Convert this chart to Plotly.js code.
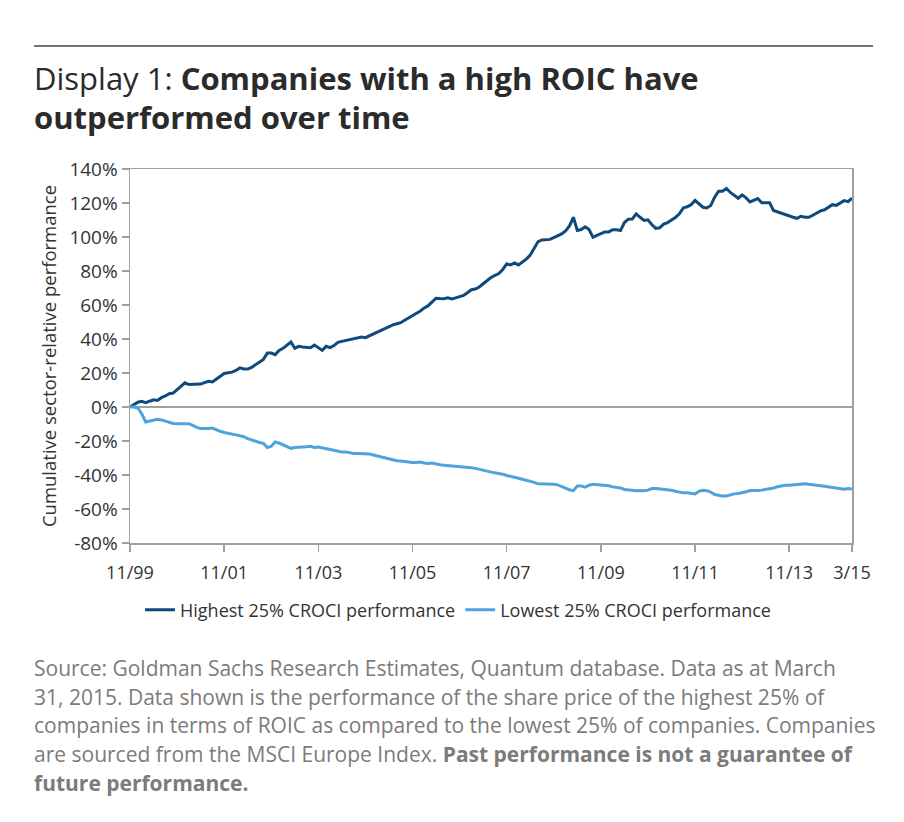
<!DOCTYPE html>
<html>
<head>
<meta charset="utf-8">
<script src="https://cdn.plot.ly/plotly-3.0.1.min.js"></script>
<style>
html,body{margin:0;padding:0;background:#fff;}
#chart{width:904px;height:822px;}
</style>
</head>
<body>
<div id="chart"></div>
<script>
// Monthly observations from 11/1999 to 3/2015
var startYear = 1999, startMonth = 11;
var highest25 = [
  0, 1.5, 2.8, 3.3, 2.5, 3.4, 4.2, 3.9, 5.5, 6.5, 7.8, 8.2,
  10.2, 12, 14.2, 13.2, 13.2, 13.3, 13.5, 14.3, 15.1, 14.7, 16.3, 18,
  19.7, 20.1, 20.5, 21.5, 23, 22.4, 22.3, 23.3, 25, 26.8, 28, 31.7,
  31.7, 30.8, 33.2, 34.5, 36.2, 38.2, 34.5, 35.7, 35.3, 35, 34.9, 36.4,
  34.7, 33.3, 35.7, 34.9, 36.2, 38, 38.6, 39.1, 39.6, 39.9, 40.4, 41.1,
  40.8, 41.9, 43, 43.9, 45.3, 46, 47.3, 48.3, 49, 49.6, 51, 52.4,
  53.5, 55, 56.5, 58.3, 59.6, 61.8, 64, 63.8, 63.7, 64.2, 63.5, 64.2,
  65, 65.6, 67.2, 69, 69.4, 70.6, 72.5, 74.5, 76.2, 77.4, 78.5, 80.9,
  84.2, 83.6, 84.8, 83.6, 85.2, 87, 89.4, 93, 97.3, 98.3, 98.3, 98.6,
  99.6, 100.8, 101.8, 103.6, 106.5, 111.6, 103.8, 104.4, 106, 104.4, 99.8, 100.9,
  102.2, 103, 103, 104.3, 104.2, 103.8, 108.5, 110.5, 110.6, 113.6, 111.6, 109.7,
  110.1, 107.2, 105.1, 105.4, 107.6, 108.5, 110, 111.5, 113.6, 117.1, 117.8, 119,
  121.5, 119.7, 117.5, 117.1, 118.5, 123.4, 126.9, 126.9, 128.6, 126.2, 124.5, 122.8,
  124.8, 123, 120.6, 121.8, 122.6, 120.1, 120.1, 120.1, 115.6, 114.8, 113.8, 112.8,
  112.1, 111.6, 111, 112.2, 111.6, 111.6, 112.8, 114.2, 115.4, 116, 117.5, 119,
  118.6, 120.2, 121.4, 120.8, 122.8
];
var lowest25 = [
  0, 0, -0.6, -4, -8.8, -8.3, -7.6, -7.2, -7.6, -8.4, -9.2, -9.7,
  -9.8, -9.8, -9.6, -9.8, -10.8, -12, -12.6, -12.7, -12.6, -12.4, -13.5, -14.3,
  -15, -15.4, -15.6, -16.4, -16.9, -17.5, -18.6, -19.5, -20.3, -20.9, -21.4, -23.9,
  -23.1, -20.6, -21.2, -22.3, -23.5, -24.3, -23.8, -23.8, -23.7, -23.4, -23.1, -23.8,
  -23.5, -24, -24.5, -24.8, -25.6, -26.2, -26.4, -26.4, -26.9, -27.3, -27.4, -27.4,
  -27.4, -27.6, -28.2, -28.8, -29.3, -30, -30.6, -31.1, -31.6, -31.8, -32.1, -32.5,
  -32.7, -32.6, -32.4, -32.9, -33.2, -33, -33.6, -34, -34.2, -34.4, -34.7, -34.8,
  -34.8, -35, -35.3, -35.8, -36.1, -36.5, -37, -37.7, -38.3, -38.7, -39, -39.5,
  -40.3, -40.7, -41.3, -41.9, -42.5, -43, -43.7, -44.3, -45.2, -45.2, -45, -45,
  -45.4, -45.8, -46.6, -47.7, -48.7, -49.2, -46.4, -46.4, -47.2, -46, -45.5, -45.7,
  -46, -46.2, -46.3, -47, -47.3, -47.6, -48.5, -48.8, -49.2, -49.2, -49.1, -49.3,
  -48.9, -48, -47.9, -48.1, -48.4, -48.6, -49, -49.6, -50.2, -50.5, -50.5, -50.8,
  -51.1, -49.6, -49, -49.2, -50, -51.5, -52.1, -52.3, -52.3, -51.5, -51.1, -50.9,
  -50.6, -49.9, -49.1, -49.2, -49.1, -48.9, -48.6, -48.3, -47.6, -46.9, -46.3, -46,
  -46, -45.8, -45.6, -45.4, -45.1, -45.5, -45.9, -46, -46.3, -46.6, -47, -47.4,
  -47.6, -48.1, -48.3, -47.9, -48.3
];
var tickDates = ['1999-11', '2001-11', '2003-11', '2005-11', '2007-11', '2009-11', '2011-11', '2013-11', '2015-03'];
var tickLabels = ['11/99', '11/01', '11/03', '11/05', '11/07', '11/09', '11/11', '11/13', '3/15'];
var yTickVals = [-80, -60, -40, -20, 0, 20, 40, 60, 80, 100, 120, 140];
var yTickLabels = ['-80%', '-60%', '-40%', '-20%', '0%', '20%', '40%', '60%', '80%', '100%', '120%', '140%'];
var seriesNames = ['Highest 25% CROCI performance', 'Lowest 25% CROCI performance'];

var months = [];
for (var i = 0; i < highest25.length; i++) {
  var y = startYear + Math.floor((startMonth - 1 + i) / 12);
  var m = ((startMonth - 1 + i) % 12) + 1;
  months.push(y + '-' + (m < 10 ? '0' + m : m));
}

var FONT = 'Open Sans, Noto Sans, sans-serif';
var traces = [
  {x: months, y: highest25, name: seriesNames[0], type: 'scatter', mode: 'lines',
   line: {color: '#0e4a7d', width: 3}},
  {x: months, y: lowest25, name: seriesNames[1], type: 'scatter', mode: 'lines',
   line: {color: '#4ea3dc', width: 3}}
];

var L = 130, R = 852, T = 169, B = 543;
function px(x) { return (x - L) / (R - L); }
function py(y) { return (B - y) / (B - T); }

var footLines = [
  'Source: Goldman Sachs Research Estimates, Quantum database. Data as at March',
  '31, 2015. Data shown is the performance of the share price of the highest 25% of',
  'companies in terms of ROIC as compared to the lowest 25% of companies. Companies',
  'are sourced from the MSCI Europe Index. <b>Past performance is not a guarantee of</b>',
  '<b>future performance.</b>'
];
var footY = [668, 697, 725, 754, 783];

var annotations = [
  {xref: 'paper', yref: 'paper', x: px(32), y: py(78), xanchor: 'left', yanchor: 'middle',
   text: 'Display 1: <b>Companies with a high ROIC have</b>', showarrow: false,
   font: {family: FONT, size: 31, color: '#2b2b2b'}},
  {xref: 'paper', yref: 'paper', x: px(32), y: py(117), xanchor: 'left', yanchor: 'middle',
   text: '<b>outperformed over time</b>', showarrow: false,
   font: {family: FONT, size: 31, color: '#2b2b2b'}}
];
for (var k = 0; k < footLines.length; k++) {
  annotations.push({xref: 'paper', yref: 'paper', x: px(32), y: py(footY[k]), xanchor: 'left', yanchor: 'middle',
    text: footLines[k], showarrow: false, font: {family: FONT, size: 21, color: '#7b7b7b'}});
}

var layout = {
  width: 904, height: 822,
  paper_bgcolor: '#ffffff', plot_bgcolor: '#ffffff',
  margin: {l: L, r: 904 - R, t: T, b: 822 - B},
  showlegend: true,
  legend: {orientation: 'h', x: px(458), xanchor: 'center', y: py(610), yanchor: 'middle',
    font: {family: FONT, size: 18, color: '#333333'}, traceorder: 'normal'},
  xaxis: {type: 'category', range: [0, highest25.length - 1], tickmode: 'array',
    tickvals: tickDates, ticktext: tickLabels, ticks: 'outside', ticklen: 7, tickwidth: 1.5,
    tickcolor: '#a0a0a0', showline: true, linecolor: '#a0a0a0', linewidth: 1.5, mirror: true,
    ticklabelstandoff: 6,
    showgrid: false, zeroline: false, tickfont: {family: FONT, size: 18, color: '#333333'}},
  yaxis: {range: [-80, 140], tickmode: 'array', tickvals: yTickVals, ticktext: yTickLabels,
    ticks: 'outside', ticklen: 7,
    tickwidth: 1.5, tickcolor: '#a0a0a0', showline: true, linecolor: '#a0a0a0', linewidth: 1.5,
    mirror: true, showgrid: false, zeroline: true, zerolinecolor: '#a0a0a0', zerolinewidth: 1.5,
    tickfont: {family: FONT, size: 19, color: '#333333'},
    title: {text: 'Cumulative sector-relative performance', standoff: 8,
      font: {family: FONT, size: 18.5, color: '#333333'}}},
  shapes: [
    {type: 'line', xref: 'paper', yref: 'paper', x0: px(34), x1: px(873), y0: py(46), y1: py(46),
     line: {color: '#444444', width: 1.5}}
  ],
  annotations: annotations
};

Plotly.newPlot('chart', traces, layout, {displayModeBar: false, staticPlot: true});
</script>
</body>
</html>
